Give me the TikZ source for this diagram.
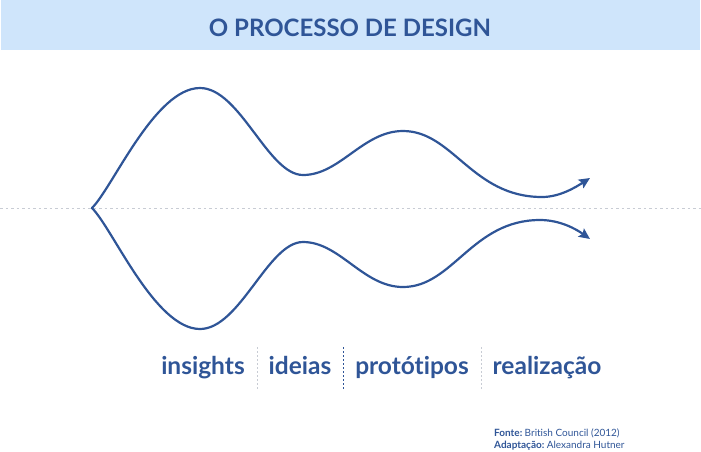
\documentclass[tikz,border=0pt]{standalone}
\usepackage{fontspec}
\setmainfont{Lato}[Ligatures=NoCommon]
\usetikzlibrary{arrows.meta}
\definecolor{dblue}{HTML}{2F5597}
\definecolor{band}{HTML}{CFE5FB}
\definecolor{sepgray}{HTML}{C8CCD4}
\tikzset{
  flow/.style={draw=dblue, line width=2.2pt, line cap=round, -{Stealth[length=11pt,width=10pt,inset=2pt]}},
  lbl/.style={text=dblue, font=\fontsize{24.5}{28}\selectfont\bfseries, anchor=base, inner sep=0pt},
  sepl/.style={draw=sepgray, line width=0.9pt, dash pattern=on 1.5pt off 2.5pt},
  sepd/.style={draw=dblue, line width=1pt, dash pattern=on 1.5pt off 2.5pt},
  foot/.style={text=dblue, font=\fontsize{10}{12}\selectfont, anchor=base west, inner sep=0pt},
}
\begin{document}
\begin{tikzpicture}[x=1pt,y=-1pt]
\useasboundingbox (0,0) rectangle (701,451);
\fill[band] (1,0) rectangle (700,50);
\node[text=dblue, font=\fontsize{24}{28}\selectfont\bfseries, anchor=base, inner sep=0pt] (title) at (350,36) {O PROCESSO DE DESIGN};
\coordinate (L) at (0,208);
\coordinate (R) at (701,208);
\draw[draw=sepgray, line width=0.9pt, dash pattern=on 2.5pt off 3pt] (L) -- (R);
\coordinate (start) at (92,208);
% upper branch
\draw[flow] (start) .. controls (113,187) and (155,88) .. (200,88)
  .. controls (240,88) and (268,175) .. (303,175)
  .. controls (340,175) and (363,131) .. (403,131)
  .. controls (453,131) and (472,197) .. (542,197)
  .. controls (560,197) and (576,187) .. (590,178);
% lower branch
\draw[flow] (start) .. controls (113,229) and (155,329) .. (200,329)
  .. controls (240,329) and (268,242) .. (303,242)
  .. controls (340,242) and (363,287) .. (403,287)
  .. controls (453,287) and (472,220) .. (540,220)
  .. controls (560,220) and (576,229) .. (590,239);
% labels
\node[lbl] (ins) at (203,374) {insights};
\node[lbl] (ide) at (300,374) {ideias};
\node[lbl] (pro) at (412,374) {protótipos};
\node[lbl] (rea) at (547,374) {realização};
\coordinate (s1a) at (257,347); \coordinate (s1b) at (257,390);
\coordinate (s2a) at (343,347); \coordinate (s2b) at (343,390);
\coordinate (s3a) at (481,347); \coordinate (s3b) at (481,390);
\draw[sepl] (s1a) -- (s1b);
\draw[sepd] (s2a) -- (s2b);
\draw[sepl] (s3a) -- (s3b);
% footer
\node[foot] (f1) at (494,436) {\textbf{Fonte:}\hspace{-1pt} British Council (2012)};
\node[foot] (f2) at (494,448) {\textbf{Adaptação:}\hspace{-1pt} Alexandra Hutner};
\end{tikzpicture}
\end{document}
